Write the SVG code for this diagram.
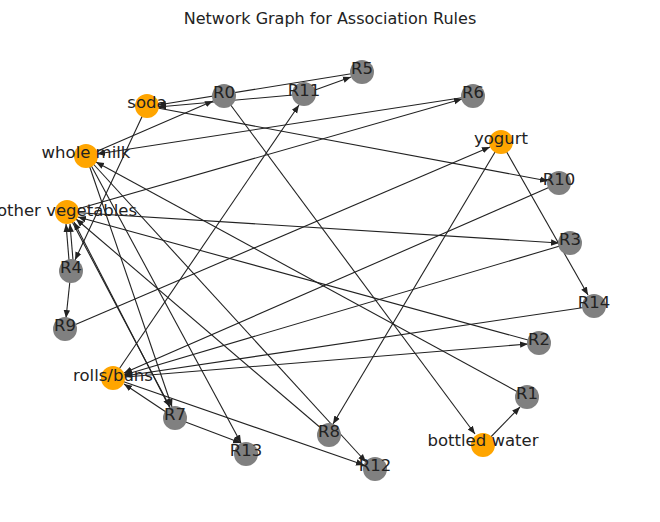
<svg xmlns="http://www.w3.org/2000/svg" width="660" height="522" viewBox="0 0 660 522">
<style>
.e{stroke:#222;stroke-width:1.1;fill:none;marker-end:url(#a)}
.o{fill:#FFA500}.g{fill:#808080}
text{font-family:"DejaVu Sans",sans-serif;font-size:16.5px;fill:#222;text-anchor:middle;dominant-baseline:central}
</style>
<defs><marker id="a" viewBox="0 0 10 10" refX="10" refY="5" markerWidth="8" markerHeight="8" markerUnits="userSpaceOnUse" orient="auto"><path d="M0,1L10,5L0,9z" fill="#222"/></marker></defs>
<rect width="660" height="522" fill="#fff"/>
<text x="330" y="18" style="font-size:16px">Network Graph for Association Rules</text>
<g id="edges">
<line class="e" x1="362" y1="72" x2="158" y2="105"/>
<line class="e" x1="304" y1="94" x2="158" y2="107"/>
<line class="e" x1="304" y1="94" x2="351" y2="77"/>
<line class="e" x1="86" y1="156" x2="213" y2="101"/>
<line class="e" x1="224" y1="96" x2="475" y2="434"/>
<line class="e" x1="113" y1="378" x2="299" y2="105"/>
<line class="e" x1="67" y1="212" x2="462" y2="99"/>
<line class="e" x1="473" y1="96" x2="97" y2="154"/>
<line class="e" x1="147" y1="106" x2="548" y2="181"/>
<line class="e" x1="147" y1="106" x2="75" y2="260"/>
<line class="e" x1="69" y1="260" x2="66" y2="224"/>
<line class="e" x1="73" y1="260" x2="70" y2="224"/>
<line class="e" x1="71" y1="271" x2="66" y2="318"/>
<line class="e" x1="65" y1="329" x2="490" y2="147"/>
<line class="e" x1="501" y1="142" x2="588" y2="295"/>
<line class="e" x1="501" y1="142" x2="333" y2="424"/>
<line class="e" x1="559" y1="183" x2="124" y2="373"/>
<line class="e" x1="570" y1="243" x2="124" y2="375"/>
<line class="e" x1="594" y1="306" x2="124" y2="376"/>
<line class="e" x1="113" y1="378" x2="528" y2="344"/>
<line class="e" x1="67" y1="212" x2="559" y2="243"/>
<line class="e" x1="539" y1="343" x2="78" y2="217"/>
<line class="e" x1="527" y1="397" x2="96" y2="162"/>
<line class="e" x1="483" y1="445" x2="520" y2="407"/>
<line class="e" x1="86" y1="156" x2="172" y2="407"/>
<line class="e" x1="67" y1="212" x2="170" y2="407"/>
<line class="e" x1="86" y1="156" x2="241" y2="443"/>
<line class="e" x1="175" y1="418" x2="241" y2="443"/>
<line class="e" x1="175" y1="418" x2="74" y2="222"/>
<line class="e" x1="175" y1="418" x2="124" y2="384"/>
<line class="e" x1="329" y1="435" x2="76" y2="219"/>
<line class="e" x1="86" y1="156" x2="366" y2="462"/>
<line class="e" x1="113" y1="378" x2="364" y2="465"/>
</g>
<g id="soda"><circle class="o" cx="147" cy="106" r="12"/><text x="147" y="102">soda</text></g>
<g id="R0"><circle class="g" cx="224" cy="96" r="12"/><text x="224" y="92">R0</text></g>
<g id="R11"><circle class="g" cx="304" cy="94" r="12"/><text x="304" y="90">R11</text></g>
<g id="R5"><circle class="g" cx="362" cy="72" r="12"/><text x="362" y="68">R5</text></g>
<g id="R6"><circle class="g" cx="473" cy="96" r="12"/><text x="473" y="92">R6</text></g>
<g id="yogurt"><circle class="o" cx="501" cy="142" r="12"/><text x="501" y="138">yogurt</text></g>
<g id="whole_milk"><circle class="o" cx="86" cy="156" r="12"/><text x="86" y="152">whole milk</text></g>
<g id="R10"><circle class="g" cx="559" cy="183" r="12"/><text x="559" y="179">R10</text></g>
<g id="other_vegetables"><circle class="o" cx="67" cy="212" r="12"/><text x="67" y="210">other vegetables</text></g>
<g id="R3"><circle class="g" cx="570" cy="243" r="12"/><text x="570" y="239">R3</text></g>
<g id="R4"><circle class="g" cx="71" cy="271" r="12"/><text x="71" y="267">R4</text></g>
<g id="R14"><circle class="g" cx="594" cy="306" r="12"/><text x="594" y="302">R14</text></g>
<g id="R9"><circle class="g" cx="65" cy="329" r="12"/><text x="65" y="325">R9</text></g>
<g id="R2"><circle class="g" cx="539" cy="343" r="12"/><text x="539" y="339">R2</text></g>
<g id="rolls_buns"><circle class="o" cx="113" cy="378" r="12"/><text x="113" y="375">rolls/buns</text></g>
<g id="R1"><circle class="g" cx="527" cy="397" r="12"/><text x="527" y="393">R1</text></g>
<g id="R7"><circle class="g" cx="175" cy="418" r="12"/><text x="175" y="414">R7</text></g>
<g id="R8"><circle class="g" cx="329" cy="435" r="12"/><text x="329" y="431">R8</text></g>
<g id="bottled_water"><circle class="o" cx="483" cy="445" r="12"/><text x="483" y="440">bottled water</text></g>
<g id="R13"><circle class="g" cx="246" cy="454" r="12"/><text x="246" y="450">R13</text></g>
<g id="R12"><circle class="g" cx="375" cy="469" r="12"/><text x="375" y="465">R12</text></g>
</svg>
